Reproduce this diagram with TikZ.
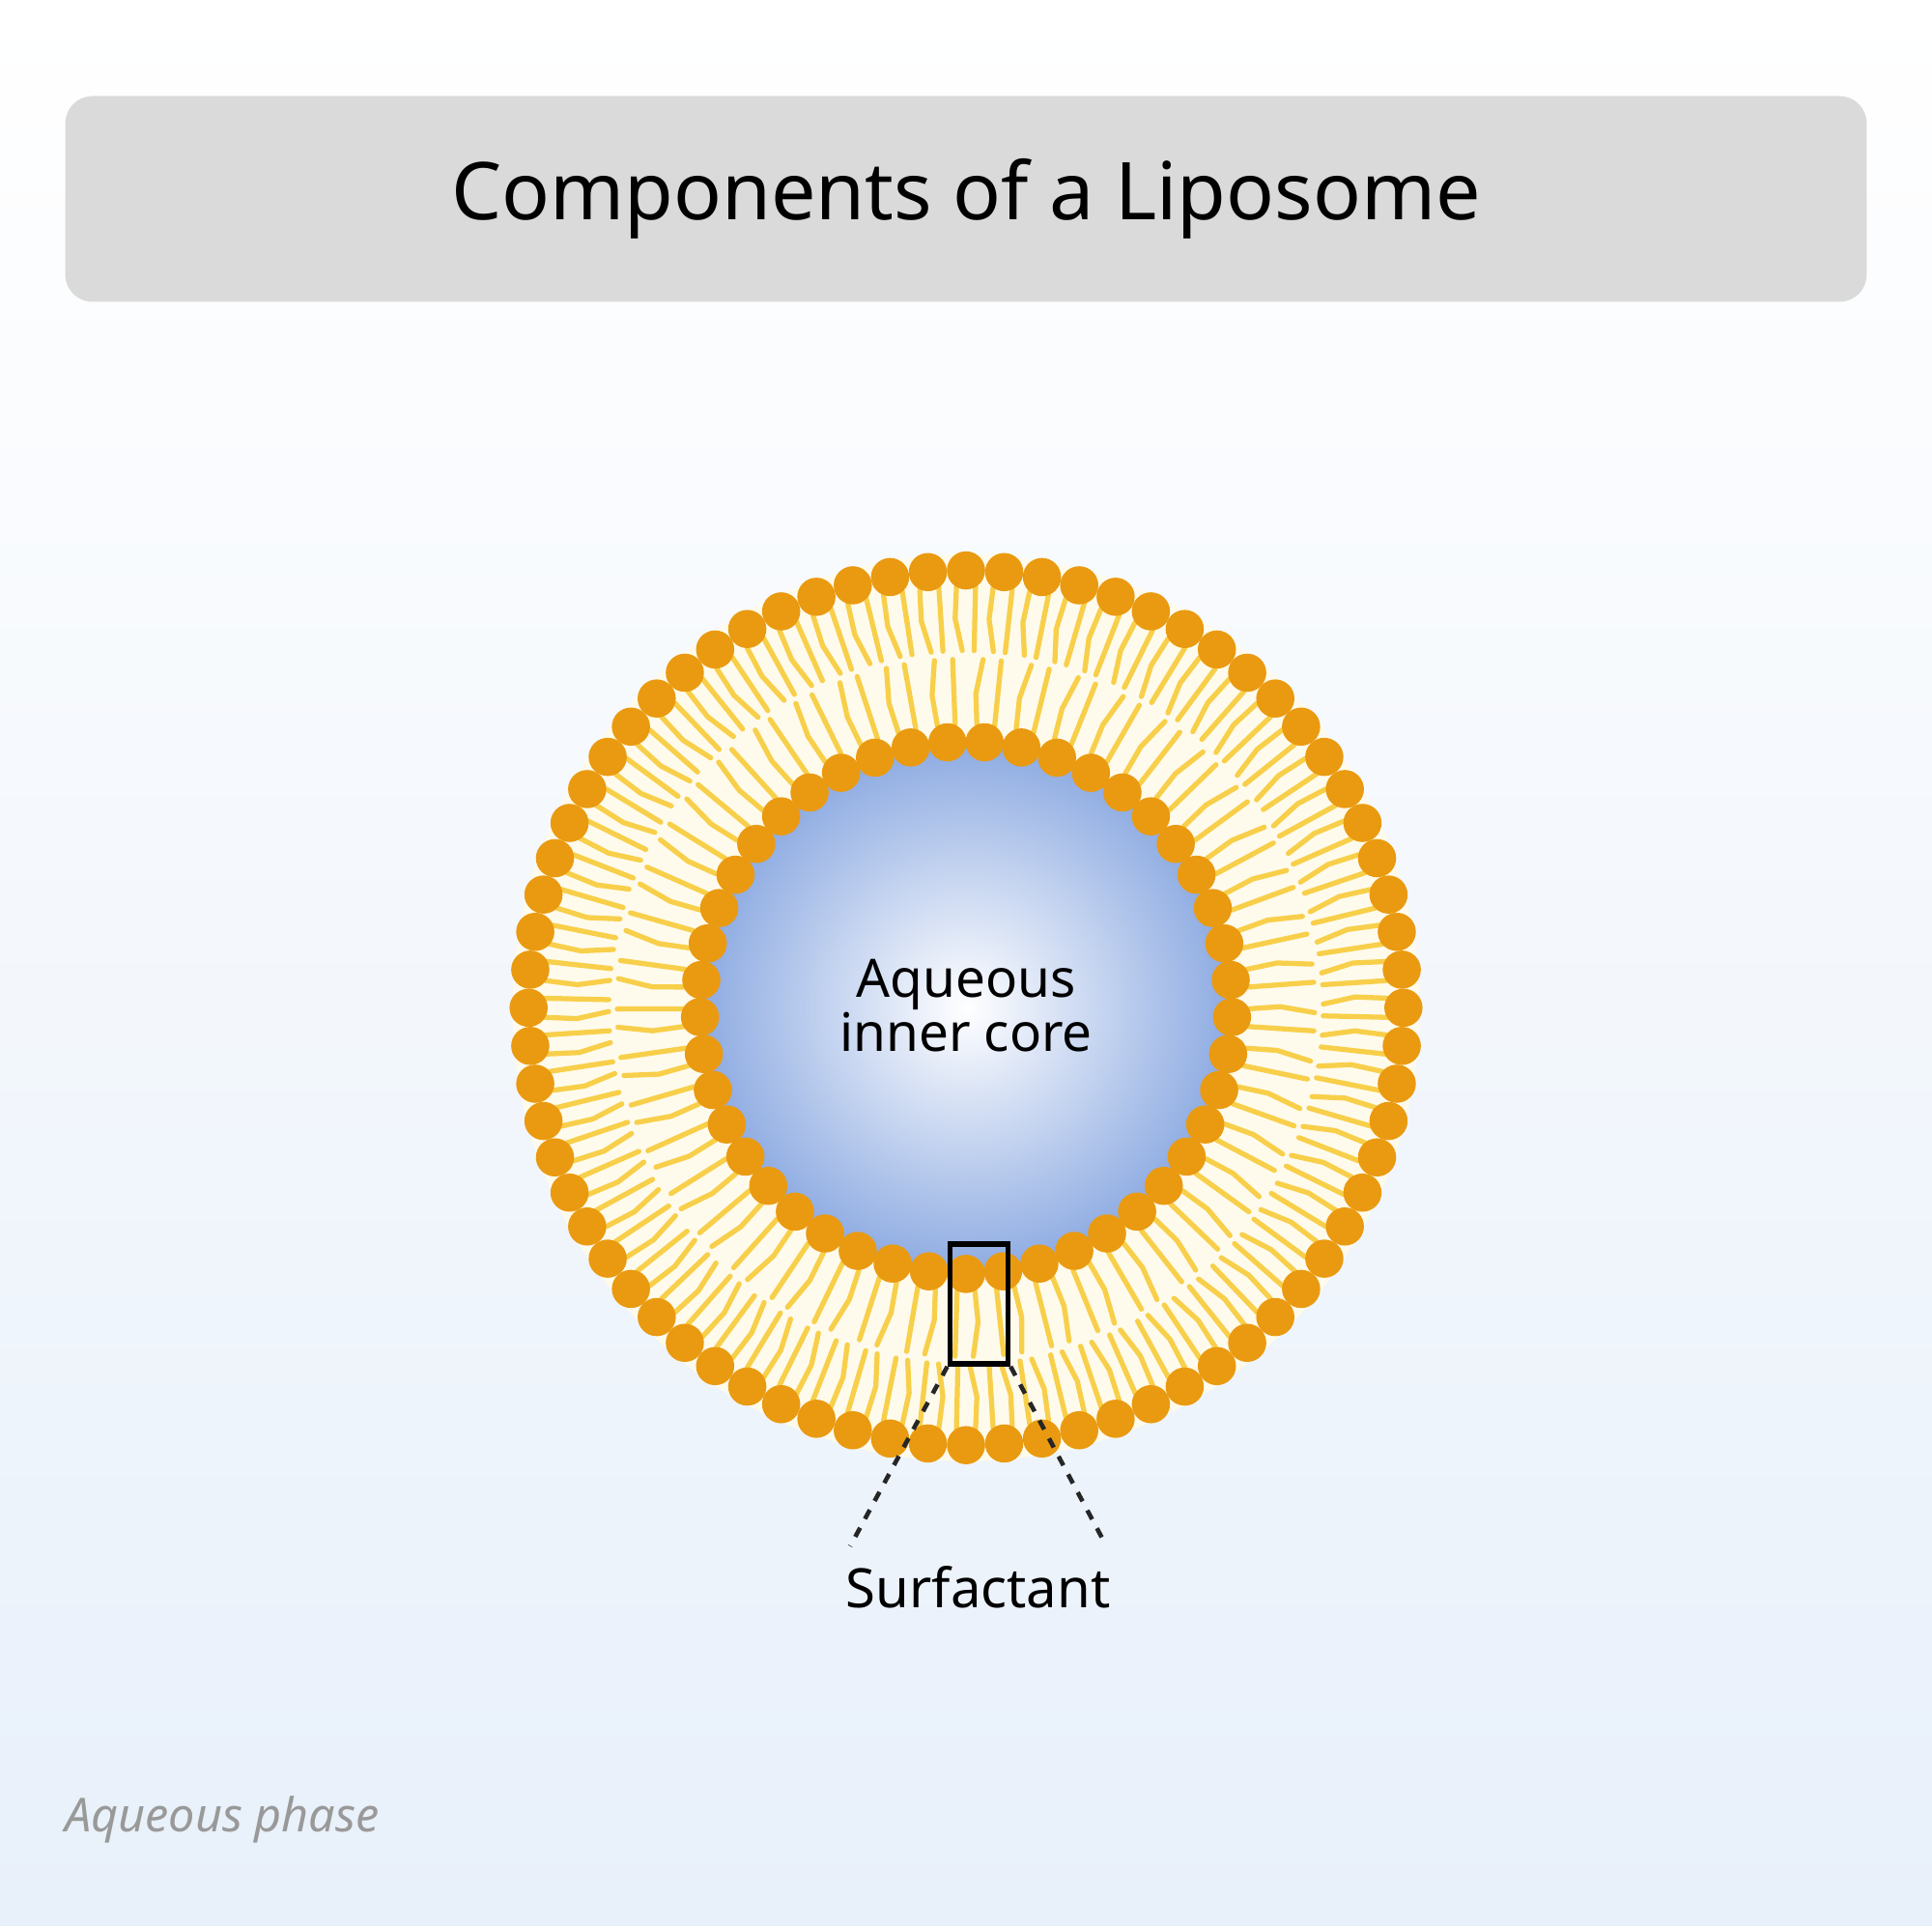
\documentclass[tikz,border=0pt]{standalone}
\usepackage{fontspec}
\setmainfont{Noto Sans}
\usetikzlibrary{positioning, calc}
\definecolor{headcol}{HTML}{EA9A10}
\definecolor{tailcol}{HTML}{F8CF4A}
\definecolor{membcol}{HTML}{FEFBEC}
\definecolor{corecol}{HTML}{8FACE2}
\definecolor{bgbot}{HTML}{E8F0FA}
\definecolor{titlecol}{HTML}{DADADA}
\begin{document}
\begin{tikzpicture}[x=0.012755cm, y=-0.012755cm,
    head/.style={circle, fill=headcol, inner sep=0pt, minimum size=31*0.012755cm},
    tail/.style={draw=tailcol, line width=1.5pt, line cap=round, line join=round},
    label/.style={font=\fontsize{15.6}{19}\selectfont, align=center}]
    % background and frame
    \shade[top color=white, bottom color=bgbot] (0,0) rectangle (1568,1563);
    \useasboundingbox (0,0) rectangle (1568,1563);
    \node[fill=titlecol, rounded corners=8pt, minimum width=1462*0.012755cm,
          minimum height=167*0.012755cm, font=\fontsize{23.5}{28}\selectfont]
          (title) at (784,161.5) {Components of a Liposome};

    % membrane
    \begin{scope}[shift={(784,818)}]
        \fill[membcol] (0,0) circle (368);
        \shade[inner color=white, outer color=corecol] (0,0) circle (212);
        % outer leaflet
        \foreach \i in {0,...,71} {
            \pgfmathsetmacro{\a}{\i*5}
            \draw[tail] (\a-1.3:342) -- (\a-1.6:316) -- (\a-0.6:290);
            \draw[tail] (\a+1.3:342) -- (\a+1.3:290);
            \node[head] at (\a:355) {};
        }
        % inner leaflet
        \foreach \i in {0,...,44} {
            \pgfmathsetmacro{\a}{\i*8+2}
            \draw[tail] (\a-1.8:230) -- (\a-2.2:255) -- (\a-1.2:283);
            \draw[tail] (\a+1.8:230) -- (\a+1.8:283);
            \node[head] at (\a:216) {};
        }
    \end{scope}

    \node[label] (core) at (784,816) {Aqueous\\[-3pt]inner core};

    % zoom box and label
    \node[draw=black, line width=1.6pt, minimum width=47*0.012755cm,
          minimum height=97*0.012755cm, inner sep=0pt] (box) at (794.5,1058.5) {};
    \node[label, font=\fontsize{16}{19}\selectfont] (surf) at (794,1288) {Surfactant};
    \coordinate (l) at (690,1255);
    \coordinate (r) at (898,1255);
    \draw[dashed, line width=1.3pt, black!85] (box.south west) -- (l);
    \draw[dashed, line width=1.3pt, black!85] (box.south east) -- (r);

    \node[anchor=west, text=black!40, font=\fontsize{13.8}{16}\selectfont\itshape]
        (phase) at (43,1477) {Aqueous phase};
\end{tikzpicture}
\end{document}
